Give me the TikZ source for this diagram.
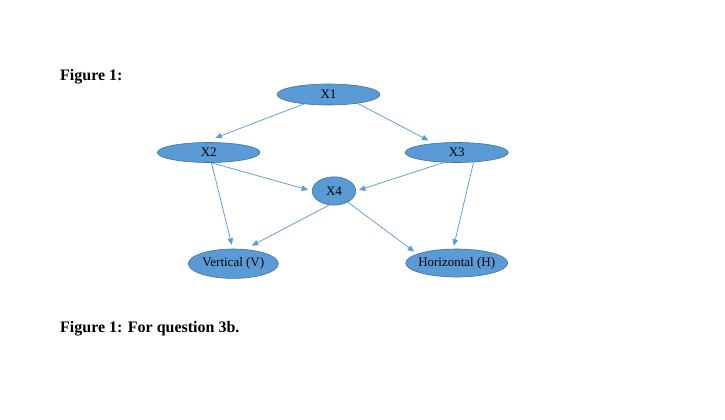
\documentclass[tikz,border=0pt]{standalone}
\usepackage{fontspec}
\setmainfont{Liberation Serif}
\usetikzlibrary{shapes.geometric,arrows.meta}
\definecolor{nodefill}{HTML}{5B9BD5}
\definecolor{nodeline}{HTML}{41719C}
\definecolor{edgecol}{HTML}{5B9BD5}
\tikzset{
  ell/.style={ellipse, draw=nodeline, fill=nodefill, line width=0.6pt, inner sep=0pt},
  elltext/.style={inner sep=0pt, font=\fontsize{13}{15}\selectfont, text=black},
  conn/.style={draw=edgecol, line width=0.75pt, -{Triangle[length=6.5pt,width=5.5pt]}},
  caption/.style={inner sep=0pt, anchor=base west, font=\fontsize{16}{19}\selectfont\bfseries}
}
\begin{document}
\begin{tikzpicture}[x=1pt,y=-1pt]
\useasboundingbox (0,0) rectangle (725,420);
\node[caption] (cap1) at (60,80) {Figure 1:};
\node[caption] (cap2) at (60,332.3) {Figure 1: For question 3b.};

\node[ell, minimum width=103pt, minimum height=21pt] (x1) at (328.5,94.5) {};
\node[ell, minimum width=102.6pt, minimum height=20pt] (x2) at (208.7,152.5) {};
\node[ell, minimum width=103pt, minimum height=20pt] (x3) at (456.7,152.5) {};
\node[ell, minimum width=43.4pt, minimum height=28.3pt] (x4) at (334,191) {};
\node[ell, minimum width=90pt, minimum height=29.4pt] (v) at (233.3,263.7) {};
\node[ell, minimum width=102pt, minimum height=28pt] (h) at (456.7,263) {};

\node[elltext] (tx1) at (x1) {X1};
\node[elltext] (tx2) at (x2) {X2};
\node[elltext] (tx3) at (x3) {X3};
\node[elltext] (tx4) at (x4) {X4};
\node[elltext] (tv) at (v) {Vertical (V)};
\node[elltext] (th) at (h) {Horizontal (H)};

\draw[conn, shorten >=12pt] (x1.201) -- (x2.114);
\draw[conn, shorten >=6pt] (x1.343) -- (x3.158);
\draw[conn, shorten >=4pt] (x2.285) -- (x4.180);
\draw[conn, shorten >=4pt] (x2.285) -- (v.92);
\draw[conn, shorten >=3pt] (x3.218) -- (x4.0);
\draw[conn, shorten >=3pt] (x3.330) -- (h.104);
\draw[conn, shorten >=7.7pt] (x4.251) -- (v.51);
\draw[conn, shorten >=3.7pt] (x4.321) -- (h.167);
\end{tikzpicture}
\end{document}
